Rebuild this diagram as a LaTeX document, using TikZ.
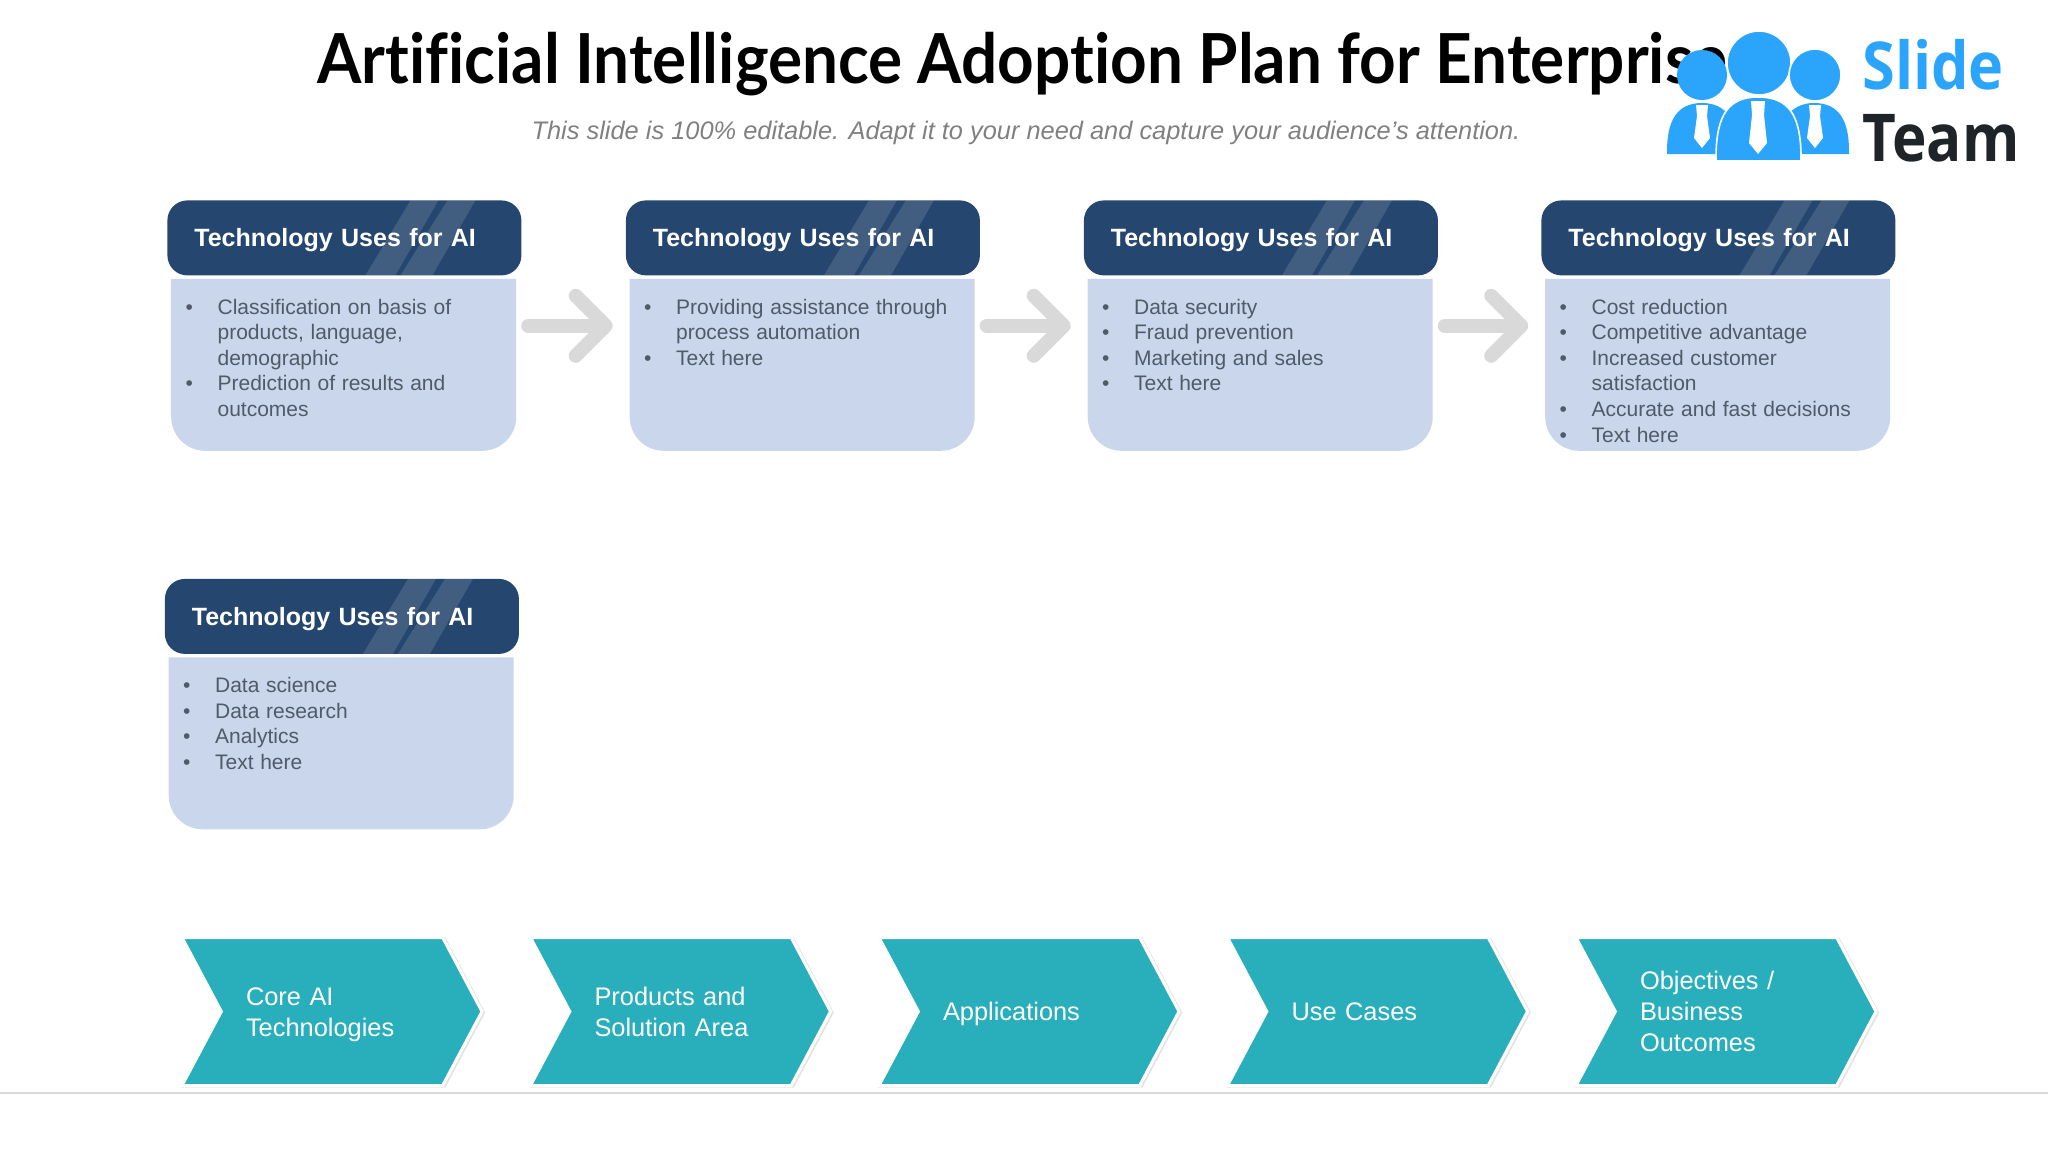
\documentclass[tikz,border=0pt]{standalone}
\usepackage{fontspec}
\usepackage{graphicx}
\setmainfont{Liberation Sans}
\newfontfamily\titlefont[Ligatures=NoCommon]{Lato}
\newfontfamily\logofont{Open Sans}
\usetikzlibrary{positioning,shapes.symbols,shadows,arrows.meta}

\definecolor{headblue}{HTML}{25466E}
\definecolor{bodyblue}{HTML}{C9D6EC}
\definecolor{flowgray}{HTML}{D9D9D9}
\definecolor{chevteal}{HTML}{29AEBB}
\definecolor{logoblue}{HTML}{2AA5FB}
\definecolor{logodark}{HTML}{1F2429}
\definecolor{bodytext}{HTML}{505A68}

\tikzset{
	headbox/.style={fill=headblue, rounded corners=10pt, anchor=north west, minimum width=177pt, minimum height=37.5pt,
		inner xsep=13.5pt, inner ysep=0pt, text width=150pt, text height=9pt, text depth=0pt, align=left, text=white,
		font=\fontsize{12.5}{15}\selectfont\bfseries,
		path picture={
			\fill[white, opacity=0.13, sharp corners] ([xshift=99pt]path picture bounding box.south west) -- ([xshift=114pt]path picture bounding box.south west) -- ([xshift=135.5pt]path picture bounding box.north west) -- ([xshift=121.5pt]path picture bounding box.north west) -- cycle;
			\fill[white, opacity=0.13, sharp corners] ([xshift=116.5pt]path picture bounding box.south west) -- ([xshift=132.5pt]path picture bounding box.south west) -- ([xshift=154pt]path picture bounding box.north west) -- ([xshift=140pt]path picture bounding box.north west) -- cycle;
		}},
	bodybox/.style={minimum width=172.5pt, minimum height=86pt, inner sep=0pt, outer sep=0pt, xshift=-0.35pt},
	bodylist/.style={anchor=north west, inner sep=0pt, text width=165pt, text=bodytext, align=left},
	flowarrow/.style={draw=flowgray, line width=7pt, line cap=round, -{Straight Barb[length=15pt,width=30pt,round]}},
	chevbox/.style={shape=signal, signal from=west, signal to=east, signal pointer angle=124, fill=chevteal, draw=white, line width=1.5pt,
		minimum width=150pt, minimum height=74pt, inner sep=0pt, text width=86pt, align=left, text=white,
		drop shadow={opacity=0.22, shadow xshift=0.5pt, shadow yshift=-0.5pt, shadow scale=1.015},
		execute at begin node={\setlength{\lineskiplimit}{-20pt}\rule[-3pt]{0pt}{15pt}}, execute at end node=\rule[-3pt]{0pt}{15pt},
		font=\fontsize{12.7}{15.5}\selectfont},
	logohead/.style={fill=logoblue},
	logotie/.style={fill=white}
}

\newenvironment{cardlist}{\fontsize{10.5}{12.8}\selectfont
	\begin{list}{\textbullet}{\setlength{\leftmargin}{16pt}\setlength{\labelwidth}{16pt}\setlength{\labelsep}{0pt}
		\setlength{\topsep}{0pt}\setlength{\partopsep}{0pt}\setlength{\itemsep}{0pt}\setlength{\parsep}{0pt}
		\renewcommand{\makelabel}[1]{##1\hfil}}}{\end{list}}

% one card: name, x, y of the head, list items
\newcommand{\techcard}[4]{
	\node[headbox] (#1head) at (#2,#3) {Technology Uses for AI};
	\node[bodybox, below=1.5pt of #1head] (#1body) {};
	\fill[bodyblue] (#1body.north west) [rounded corners=17pt] -- (#1body.south west) -- (#1body.south east) [sharp corners] -- (#1body.north east) -- cycle;
	\node[bodylist] (#1list) at ([xshift=7pt,yshift=-4.6pt]#1body.north west) {\begin{cardlist}#4\end{cardlist}};
}

\begin{document}
\begin{tikzpicture}[x=0.5pt, y=-0.5pt]
	\useasboundingbox (0,0) rectangle (2048,1152);

	\node[anchor=base west, inner sep=0pt, font=\titlefont\fontsize{34.5}{40}\selectfont\bfseries] (title) at (317,83) {\scalebox{0.925}[1]{Artificial Intelligence Adoption Plan for Enterprise}};
	\node[inner sep=0pt, text=black!50, font=\fontsize{12.7}{15}\selectfont\itshape] (subtitle) at (1026,132.5) {This slide is 100\% editable. Adapt it to your need and capture your audience’s attention.};

	\techcard{classify}{167}{200}{\item Classification on basis of\newline products, language,\newline demographic \item Prediction of results and\newline outcomes}
	\techcard{assist}{625.5}{200}{\item Providing assistance through\newline process automation \item Text here}
	\techcard{security}{1083.5}{200}{\item Data security \item Fraud prevention \item Marketing and sales \item Text here}
	\techcard{cost}{1541}{200}{\item Cost reduction \item Competitive advantage \item Increased customer\newline satisfaction \item Accurate and fast decisions \item Text here}
	\techcard{science}{164.5}{578.5}{\item Data science \item Data research \item Analytics \item Text here}

	\draw[flowarrow] ([xshift=6pt,yshift=19.5pt]classifybody.east) -- ([xshift=-8.5pt,yshift=19.5pt]assistbody.west);
	\draw[flowarrow] ([xshift=6pt,yshift=19.5pt]assistbody.east) -- ([xshift=-8.5pt,yshift=19.5pt]securitybody.west);
	\draw[flowarrow] ([xshift=6pt,yshift=19.5pt]securitybody.east) -- ([xshift=-8.5pt,yshift=19.5pt]costbody.west);

	\node[chevbox] (coreai) at (332,1011.5) {Core AI\\Technologies};
	\node[chevbox] (products) at (680.5,1011.5) {Products and\\Solution Area};
	\node[chevbox] (applications) at (1029,1011.5) {Applications};
	\node[chevbox] (usecases) at (1377.5,1011.5) {Use Cases};
	\node[chevbox] (objectives) at (1726,1011.5) {Objectives /\\Business\\Outcomes};

	\draw[flowgray, line width=0.7pt] (0,1093) -- (2048,1093);

	% logo
	\fill[logohead] (1667,151) .. controls (1667,122) and (1676,103) .. (1702,103) .. controls (1727,103) and (1738,122) .. (1738,151) -- (1738,154) -- (1667,154) -- cycle;
	\fill[logohead] (1778,151) .. controls (1778,122) and (1790,103) .. (1814,103) .. controls (1840,103) and (1849,122) .. (1849,151) -- (1849,154) -- (1778,154) -- cycle;
	\fill[logotie, shift={(1702,105)}] (-6,0) -- (6,0) -- (5,11) -- (8,33) -- (0,43) -- (-8,33) -- (-5,11) -- cycle;
	\fill[logotie, shift={(1815,105)}] (-6,0) -- (6,0) -- (5,11) -- (8,33) -- (0,43) -- (-8,33) -- (-5,11) -- cycle;
	\filldraw[logohead, draw=white, line width=0.8pt] (1716,158) .. controls (1716,114) and (1729,97) .. (1758,97) .. controls (1788,97) and (1801,114) .. (1801,158) -- (1801,161) -- (1716,161) -- cycle;
	\fill[logotie, shift={(1758,101)}] (-7,0) -- (7,0) -- (6,14) -- (9,42) -- (0,53) -- (-9,42) -- (-6,14) -- cycle;
	\fill[logohead] (1702,75) circle[radius=25];
	\filldraw[logohead, draw=white, line width=0.8pt] (1759,63) circle[radius=32];
	\filldraw[logohead, draw=white, line width=0.8pt] (1815,75) circle[radius=26];
	\node[anchor=base west, inner sep=0pt, text=logoblue, font=\logofont\fontsize{33}{36}\selectfont\bfseries] (logoslide) at (1862,89) {\scalebox{0.9}[1]{Slide}};
	\node[anchor=base west, inner sep=0pt, text=logodark, font=\logofont\fontsize{33}{36}\selectfont\bfseries] (logoteam) at (1862,161) {\scalebox{0.885}[1]{Team}};
\end{tikzpicture}
\end{document}
